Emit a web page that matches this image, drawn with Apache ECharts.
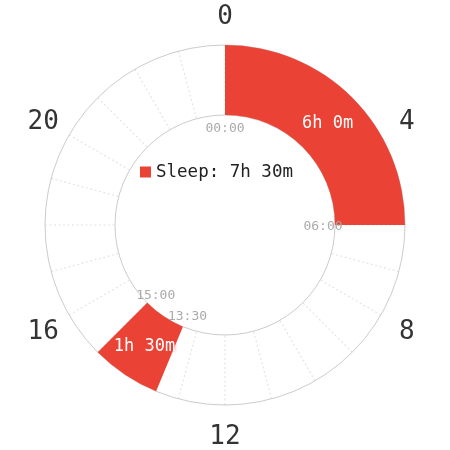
<!DOCTYPE html>
<html><head><meta charset="utf-8">
<script src="https://cdn.jsdelivr.net/npm/echarts@6/dist/echarts.min.js"></script>
<style>html,body{margin:0;padding:0;background:#fff}#c{width:450px;height:450px}</style>
</head><body><div id="c"></div>
<script>
const seriesName = 'Sleep';
const sleepStart = [0, 13.5];
const sleepEnd = [6, 15];
const hourTicks = [0, 4, 8, 12, 16, 20];

const MONO = '"DejaVu Sans Mono", monospace';
const RED = '#ea4335';

function fmtDur(h) {
  const hh = Math.floor(h);
  const mm = Math.round((h - hh) * 60);
  return hh + 'h ' + mm + 'm';
}
function fmtTime(h) {
  const hh = Math.floor(h);
  const mm = Math.round((h - hh) * 60);
  return String(hh).padStart(2, '0') + ':' + String(mm).padStart(2, '0');
}
const total = sleepStart.reduce((acc, s, i) => acc + (sleepEnd[i] - s), 0);

const chart = echarts.init(document.getElementById('c'));

function angleOf(api, cs, h) {
  const p = api.coord([1, h]);
  return Math.atan2(p[1] - cs.cy, p[0] - cs.cx);
}

chart.setOption({
  animation: false,
  backgroundColor: '#fff',
  legend: {
    data: [seriesName],
    left: 135, top: 158,
    icon: 'rect', itemWidth: 11, itemHeight: 11,
    selectedMode: false,
    textStyle: { fontFamily: MONO, fontSize: 17.5, color: '#222' },
    formatter: n => n + ': ' + fmtDur(total)
  },
  polar: { center: ['50%', '50%'], radius: [110, 180] },
  angleAxis: {
    type: 'value', min: 0, max: 24, interval: 1,
    startAngle: 90, clockwise: true,
    axisLine: { show: true, lineStyle: { color: '#ccc', width: 1 } },
    axisTick: { show: false },
    axisLabel: { show: false },
    splitLine: { show: true, lineStyle: { color: '#e4e4e4', type: [2, 2.5], width: 1.2 } }
  },
  radiusAxis: {
    type: 'value', min: 0, max: 1,
    axisLine: { show: false }, axisTick: { show: false },
    axisLabel: { show: false }, splitLine: { show: false }
  },
  series: [
    {
      name: seriesName,
      type: 'custom',
      coordinateSystem: 'polar',
      itemStyle: { color: RED },
      data: sleepStart.map((s, i) => [s, sleepEnd[i]]),
      renderItem: function (params, api) {
        const cs = params.coordSys;
        const s = api.value(0), e = api.value(1);
        let a0 = angleOf(api, cs, s), a1 = angleOf(api, cs, e);
        if (a1 <= a0) a1 += Math.PI * 2;
        const mid = api.coord([0.5, (s + e) / 2]);
        const rIn = cs.r0 - 12;
        const inner = h => {
          const a = angleOf(api, cs, h);
          return [cs.cx + rIn * Math.cos(a), cs.cy + rIn * Math.sin(a) + 1.5];
        };
        const ps = inner(s), pe = inner(e);
        return {
          type: 'group',
          children: [
            { type: 'sector',
              shape: { cx: cs.cx, cy: cs.cy, r0: cs.r0, r: cs.r, startAngle: a0, endAngle: a1, clockwise: true },
              style: { fill: api.visual('color') } },
            { type: 'text', z2: 10,
              style: { x: mid[0], y: mid[1] + 1, text: fmtDur(e - s), fill: '#fff', font: '17px ' + MONO,
                       align: 'center', verticalAlign: 'middle', textShadowColor: RED, textShadowBlur: 3 } },
            { type: 'text', z2: 10,
              style: { x: ps[0], y: ps[1], text: fmtTime(s), fill: '#aaa', font: '13px ' + MONO,
                       align: 'center', verticalAlign: 'middle' } },
            { type: 'text', z2: 10,
              style: { x: pe[0], y: pe[1], text: fmtTime(e), fill: '#aaa', font: '13px ' + MONO,
                       align: 'center', verticalAlign: 'middle' } }
          ]
        };
      }
    },
    {
      name: 'hours',
      type: 'custom',
      coordinateSystem: 'polar',
      silent: true,
      data: hourTicks.map(h => [1, h]),
      renderItem: function (params, api) {
        const cs = params.coordSys;
        const a = angleOf(api, cs, api.value(1));
        const rr = cs.r + 30;
        return {
          type: 'text',
          style: { x: cs.cx + rr * Math.cos(a), y: cs.cy + rr * Math.sin(a) + 2, text: String(api.value(1)),
                   fill: '#333', font: '26px ' + MONO, align: 'center', verticalAlign: 'middle' }
        };
      }
    }
  ]
});
</script>
</body></html>
